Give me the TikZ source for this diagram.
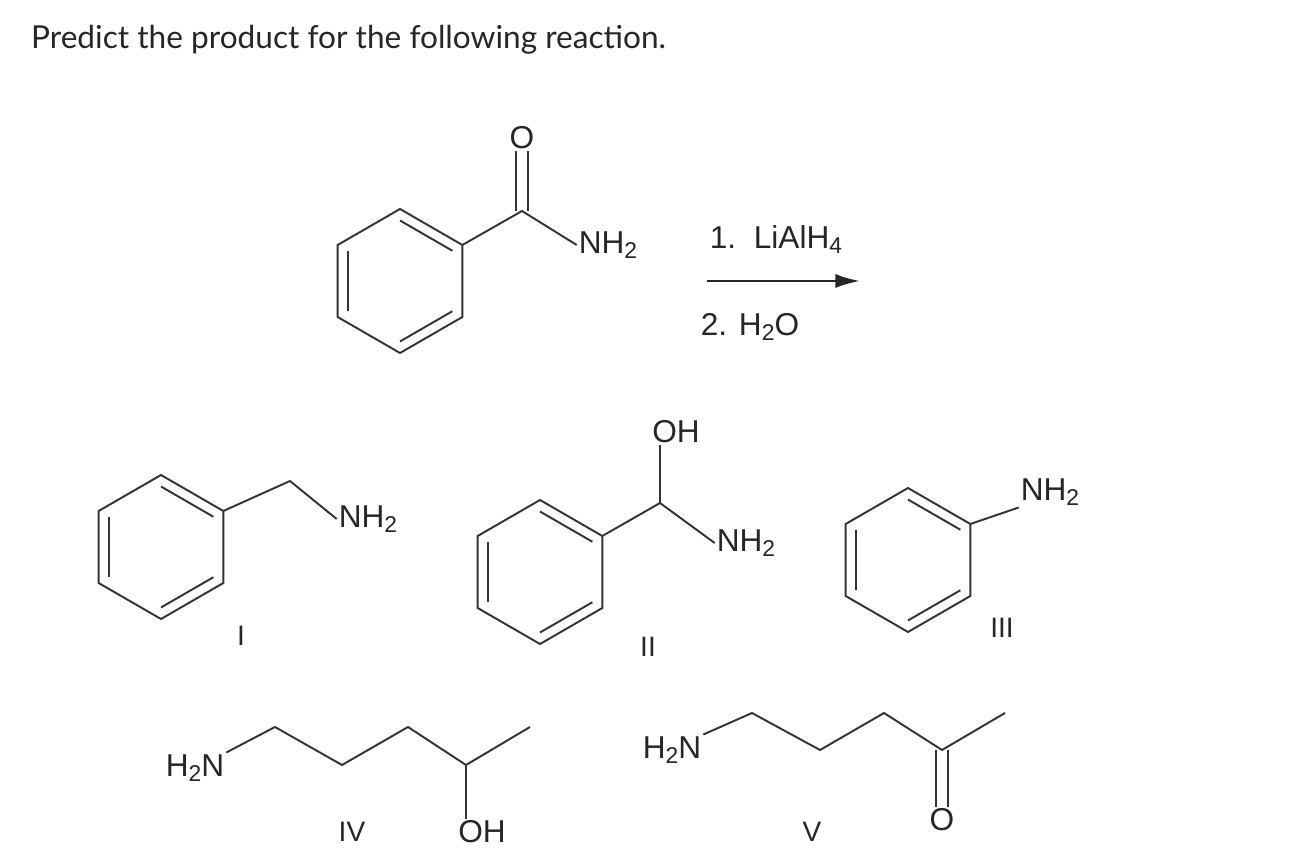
\documentclass[tikz,border=0pt]{standalone}
\usepackage{fontspec}
\setmainfont{Liberation Sans}
\newfontfamily\titlefont{Lato}
\usetikzlibrary{calc,arrows.meta}
\newcommand\sbs[1]{\raisebox{-0.3ex}{\fontsize{13}{13}\selectfont #1}}
\newcommand\MyRing[2]{%
  \coordinate (#2) at (#1);
  \foreach \a/\n in {90/1,30/2,-30/3,-90/4,-150/5,150/6}{\coordinate (#2-\n) at ($(#2)+(\a:72 and -72)$);}
  \draw[bond] (#2-1)--(#2-2)--(#2-3)--(#2-4)--(#2-5)--(#2-6)--cycle;
  \draw[bond] ($(#2)!0.84!(#2-1)$)--($(#2)!0.84!(#2-2)$);
  \draw[bond] ($(#2)!0.84!(#2-3)$)--($(#2)!0.84!(#2-4)$);
  \draw[bond] ($(#2)!0.84!(#2-5)$)--($(#2)!0.84!(#2-6)$);
}
\begin{document}
\begin{tikzpicture}[x=0.02cm,y=-0.02cm,
  bond/.style={line width=1.1pt,draw=black!80},
  lab/.style={font=\fontsize{18}{18}\selectfont,text=black!85,inner sep=1pt},
  rom/.style={font=\fontsize{16}{16}\selectfont,text=black!85}]
\useasboundingbox (0,0) rectangle (1312,864);
\node[anchor=west,font=\titlefont\fontsize{18}{18}\selectfont,text=black!85] (title) at (25,40) {Predict the product for the following reaction.};
% benzamide
\MyRing{400,281}{A}
\coordinate (Ac) at (522,211);
\node[lab] (Ao) at (522,138) {O};
\node[lab] (An) at (608,245) {NH\sbs{2}};
\draw[bond] (A-2)--(Ac)--(An.west);
\draw[bond] ([xshift=-3.5]Ac)--([xshift=-3.5]Ao.south);
\draw[bond] ([xshift=3.5]Ac)--([xshift=3.5]Ao.south);
\coordinate (arS) at (707,281);
\coordinate (arE) at (860,281);
\draw[line width=1.4pt,black!85,-{Latex[length=14pt,width=8pt]}] (arS)--(arE);
\node[lab] (r1) at (776,240) {1.~~LiAlH\sbs{4}};
\node[lab] (r2) at (750,327) {2. H\sbs{2}O};
% I
\MyRing{161,547}{B}
\coordinate (Bc) at (290,481);
\node[lab] (Bn) at (368,519) {NH\sbs{2}};
\draw[bond] (B-2)--(Bc)--(Bn.west);
\node[rom] (l1) at (241,636) {I};
% II
\MyRing{540,572}{C}
\coordinate (Cc) at (660,503);
\node[lab] (Co) at (676,432) {OH};
\node[lab] (Cn) at (746,543) {NH\sbs{2}};
\draw[bond] (C-2)--(Cc)--(Cn.west);
\draw[bond] (Cc)--(Cc|-Co.south);
\node[rom] (l2) at (648,647) {II};
% III
\MyRing{908,560}{D}
\node[lab] (Dn) at (1050,492) {NH\sbs{2}};
\draw[bond] (D-2)--(Dn.south west);
\node[rom] (l3) at (1002,628) {III};
% IV
\node[lab] (En) at (195,768) {H\sbs{2}N};
\coordinate (E1) at (275,727);
\coordinate (E2) at (342,765);
\coordinate (E3) at (408,727);
\coordinate (E4) at (466,765);
\coordinate (E5) at (530,727);
\node[lab] (Eo) at (482,832) {OH};
\draw[bond] (En.north east)--(E1)--(E2)--(E3)--(E4)--(E5);
\draw[bond] (E4)--(E4|-Eo.north);
\node[rom] (l4) at (352,832) {IV};
% V
\node[lab] (Fn) at (672,750) {H\sbs{2}N};
\coordinate (F1) at (752,713);
\coordinate (F2) at (820,750);
\coordinate (F3) at (884,713);
\coordinate (F4) at (942,750);
\coordinate (F5) at (1005,713);
\node[lab] (Fo) at (942,820) {O};
\draw[bond] (Fn.north east)--(F1)--(F2)--(F3)--(F4)--(F5);
\draw[bond] ([xshift=-3.5]F4)--([xshift=-3.5]Fo.north);
\draw[bond] ([xshift=3.5]F4)--([xshift=3.5]Fo.north);
\node[rom] (l5) at (812,832) {V};
\end{tikzpicture}
\end{document}
